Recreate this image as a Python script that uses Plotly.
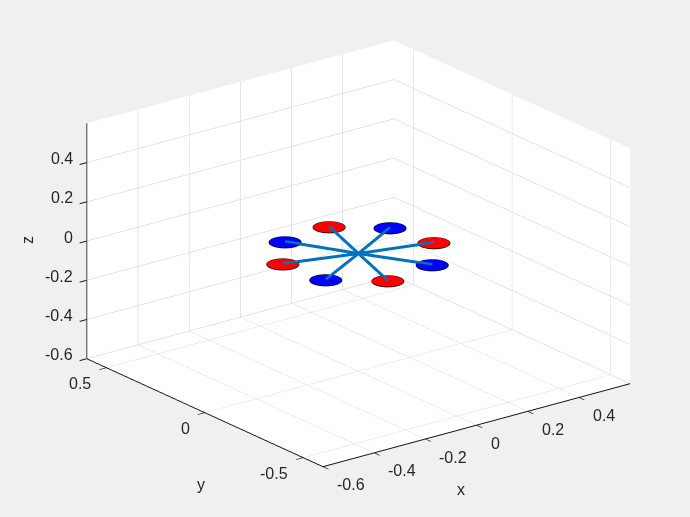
import numpy as np
import plotly.graph_objects as go

# rotor hub positions
red_x = [0.073, 0.245, -0.073, -0.24]
red_y = [0.244, -0.065, -0.244, 0.072]
blue_x = [0.217, 0.122, -0.22, -0.116]
blue_y = [0.122, -0.216, -0.12, 0.222]
rotor_radius = 0.05

x_ticks = [-0.6, -0.4, -0.2, 0, 0.2, 0.4]
y_ticks = [-0.5, 0, 0.5]
z_ticks = [-0.6, -0.4, -0.2, 0, 0.2, 0.4]
x_labels = ["-0.6", "-0.4", "-0.2", "0", "0.2", "0.4"]
y_labels = ["-0.5", "0", "0.5"]
z_labels = ["-0.6", "-0.4", "-0.2", "0", "0.2", "0.4"]

theta = np.linspace(0, 2 * np.pi, 49)[:-1]
fig = go.Figure()
text_font = dict(size=16, color="#262626", family="Liberation Sans")


def add_rotor(cx, cy, colour):
    # filled disc plus black rim, sits just under the arms
    xs = cx + rotor_radius * np.cos(theta)
    ys = cy + rotor_radius * np.sin(theta)
    zs = np.full(len(xs), -0.004)
    n = len(xs)
    fig.add_trace(go.Mesh3d(
        x=np.append(xs, cx), y=np.append(ys, cy), z=np.append(zs, -0.004),
        i=[n] * n, j=list(range(n)), k=[(m + 1) % n for m in range(n)],
        color=colour, flatshading=True, hoverinfo="skip", showscale=False,
        lighting=dict(ambient=1, diffuse=0, specular=0, fresnel=0),
    ))
    fig.add_trace(go.Scatter3d(
        x=np.append(xs, xs[0]), y=np.append(ys, ys[0]), z=np.append(zs, zs[0]),
        mode="lines", line=dict(color="black", width=1.5), showlegend=False,
    ))


for cx, cy in zip(red_x, red_y):
    add_rotor(cx, cy, "#ff0000")
for cx, cy in zip(blue_x, blue_y):
    add_rotor(cx, cy, "#0000ff")

# arms, all through the centre
for cx, cy in zip(red_x + blue_x, red_y + blue_y):
    fig.add_trace(go.Scatter3d(
        x=[0, cx], y=[0, cy], z=[0, 0], mode="lines",
        line=dict(color="#0072bd", width=6), showlegend=False,
    ))


def axis(ticks):
    # built in labels sit too close to the box, see tick_note below
    return dict(
        range=[-0.6, 0.6], autorange=False, tickmode="array", tickvals=ticks,
        title=dict(text=""), showticklabels=False,
        gridcolor="#cdcdcd", gridwidth=1, showbackground=True, backgroundcolor="white",
        showline=True, linecolor="#111111", linewidth=2, zeroline=False,
        ticks="outside", ticklen=9, tickwidth=2, tickcolor="#111111", showspikes=False,
    )


def tick_note(px, py, pz, text, anchor, dx, dy):
    return dict(x=px, y=py, z=pz, text=text, showarrow=False, xanchor=anchor, yanchor="middle",
                xshift=dx, yshift=dy, borderpad=0, font=text_font)


notes = []
for t, s in zip(x_ticks, x_labels):
    notes.append(tick_note(t, -0.6, -0.6, s, "left", 13, -18))
for t, s in zip(y_ticks, y_labels):
    notes.append(tick_note(-0.6, t, -0.6, s, "right", -14, -16))
for t, s in zip(z_ticks, z_labels):
    notes.append(tick_note(-0.6, 0.6, t, s, "right", -13, 4))


def label(text, px, py, angle=0):
    # axis names placed by hand, given in window pixels
    return dict(text=text, x=px / 690, y=1 - py / 517, xref="paper", yref="paper", showarrow=False,
                xanchor="center", yanchor="middle", textangle=angle,
                font=dict(size=16, color="#262626", family="Liberation Sans"))


center = dict(x=-0.0454, y=0.0264, z=-0.0181)
fig.update_layout(
    width=690, height=517, margin=dict(l=0, r=0, t=0, b=0),
    paper_bgcolor="#f0f0f0", showlegend=False,
    scene=dict(
        xaxis=axis(x_ticks),
        yaxis=axis(y_ticks),
        zaxis=axis(z_ticks),
        aspectmode="manual", aspectratio=dict(x=1.499, y=1.499, z=0.9725),
        annotations=notes,
        camera=dict(
            projection=dict(type="orthographic"),
            eye=dict(x=-0.5705 * 2 + center["x"], y=-0.742 * 2 + center["y"], z=0.3514 * 2 + center["z"]),
            up=dict(x=0, y=0, z=1),
            center=center,
        ),
    ),
    annotations=[label("x", 461, 490), label("y", 201, 484), label("z", 28, 240, -90)],
)

fig.write_html("out.html", config=dict(displayModeBar=False),
               post_script="document.body.style.margin='0';document.body.style.background='#f0f0f0';")
